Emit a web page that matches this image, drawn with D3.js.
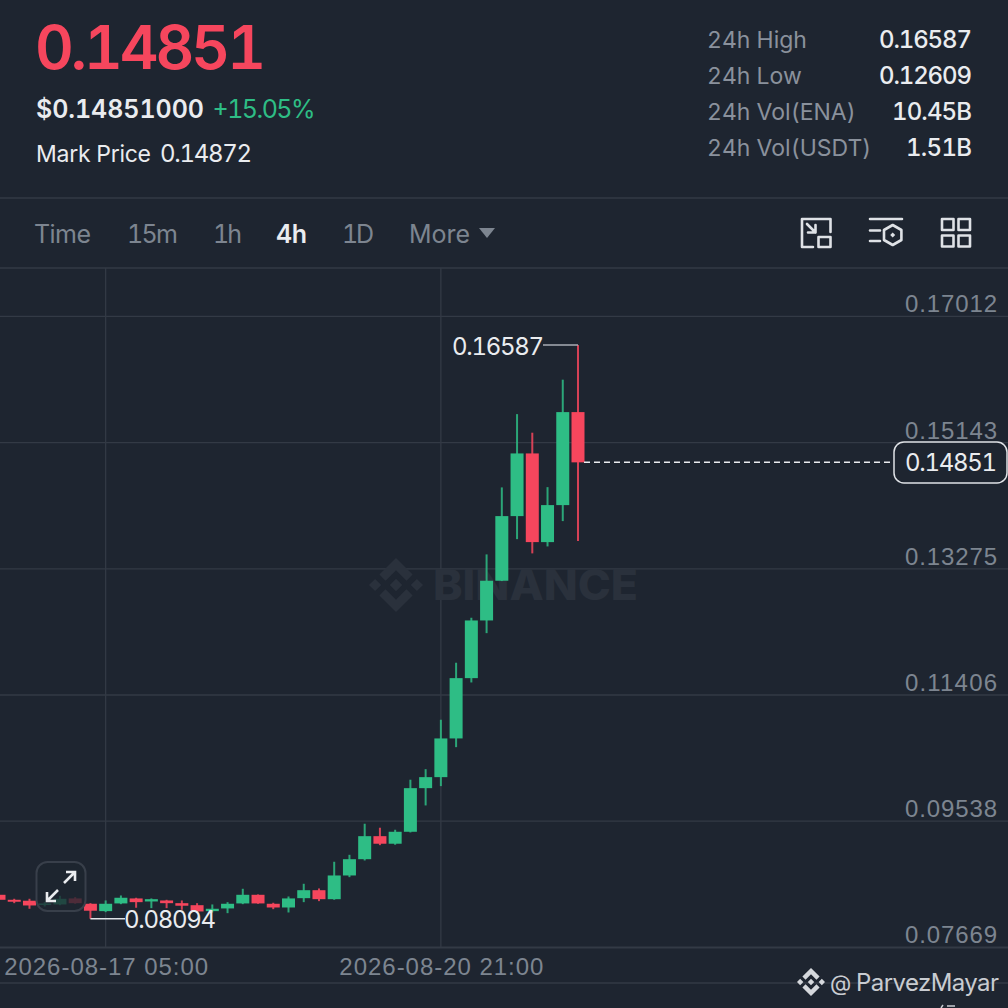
<!DOCTYPE html>
<html><head><meta charset="utf-8">
<script src="https://cdnjs.cloudflare.com/ajax/libs/d3/7.8.5/d3.min.js"></script>
<style>html,body{margin:0;padding:0;background:#1e2530;overflow:hidden}svg{display:block;font-family:Inter,"Noto Sans",sans-serif;font-variant-numeric:tabular-nums}</style>
</head><body><svg id="c" width="1008" height="1008"></svg>
<script>
const times=["08-16 01:00","08-16 05:00","08-16 09:00","08-16 13:00","08-16 17:00","08-16 21:00","08-17 01:00","08-17 05:00","08-17 09:00","08-17 13:00","08-17 17:00","08-17 21:00","08-18 01:00","08-18 05:00","08-18 09:00","08-18 13:00","08-18 17:00","08-18 21:00","08-19 01:00","08-19 05:00","08-19 09:00","08-19 13:00","08-19 17:00","08-19 21:00","08-20 01:00","08-20 05:00","08-20 09:00","08-20 13:00","08-20 17:00","08-20 21:00","08-21 01:00","08-21 05:00","08-21 09:00","08-21 13:00","08-21 17:00","08-21 21:00","08-22 01:00","08-22 05:00","08-22 09:00"];
const opens=[.08448,.08374,.08360,.08297,.08305,.08394,.08315,.08206,.08320,.08394,.08349,.08364,.08324,.08294,.08206,.08246,.08320,.08448,.08315,.08260,.08398,.08516,.08383,.08734,.08975,.09316,.09204,.09381,.10027,.10190,.10763,.11656,.12510,.13098,.14055,.14983,.13670,.14218,.15595];
const highs=[.08453,.08389,.08389,.08340,.08433,.08413,.08324,.08364,.08438,.08404,.08394,.08374,.08364,.08324,.08305,.08339,.08537,.08453,.08330,.08423,.08611,.08542,.08937,.09040,.09500,.09441,.09411,.10152,.10308,.11040,.11884,.12550,.13488,.14480,.15565,.15290,.14484,.16075,.16587];
const lows=[.08371,.08324,.08241,.08275,.08294,.08315,.08094,.08191,.08309,.08256,.08250,.08250,.08226,.08186,.08186,.08176,.08309,.08315,.08235,.08186,.08339,.08354,.08374,.08709,.08956,.09183,.09189,.09371,.09771,.10057,.10634,.11592,.12322,.13093,.13714,.13503,.13606,.13981,.13685];
const closes=[.08374,.08345,.08290,.08320,.08389,.08324,.08212,.08315,.08404,.08339,.08383,.08324,.08286,.08201,.08241,.08315,.08448,.08320,.08260,.08394,.08516,.08383,.08734,.08975,.09316,.09204,.09381,.10027,.10190,.10763,.11656,.12510,.13098,.14055,.14983,.13670,.14218,.15595,.14851];
const priceTicks=[.17012,.15143,.13275,.11406,.09538,.07669];
const timeTicks=["08-17 05:00","08-20 21:00"];
const timeYear="2026-";
const statLabels=["24h High","24h Low","24h Vol(ENA)","24h Vol(USDT)"];
const statValues=["0.16587","0.12609","10.45B","1.51B"];
const tabs=["Time","15m","1h","4h","1D","More"];
const lastPrice=.14851, highLabel=.16587, lowLabel=.08094;

const BG="#1e2530",GREEN="#2ebd85",RED="#f6465d",GRID="#333a45",MUTE="#7d8590",WHITE="#eaecef";
const logoPaths=["m38.73 53.2 24.59-24.58 24.6 24.6 14.3-14.31L63.32 0 24.42 38.9z","m0 63.31 14.3-14.31 14.31 14.31-14.31 14.3z","m38.73 73.41 24.59 24.59 24.6-24.6 14.31 14.29-38.9 38.91-38.91-38.88z","m98 63.31 14.3-14.31 14.31 14.3-14.31 14.32z","m77.83 63.3-14.51-14.52-10.73 10.73-1.24 1.23-2.54 2.54 14.51 14.5 14.51-14.47z"];

const svg=d3.select("#c");
const y=d3.scaleLinear().domain([.07669,.17012]).range([947.4,316.4]);
const x=d3.scalePoint().domain(times).range([-1,578]);
const fmt=d3.format(".5f");
function txt(s,px,py,size,fill,w,anchor,len){const t=svg.append("text").attr("x",px).attr("y",py).attr("font-size",size).attr("fill",fill).attr("font-weight",w||400).attr("text-anchor",anchor||"start").text(s);if(len)t.attr("textLength",len).attr("lengthAdjust","spacing");return t;}
function logo(tx,ty,size,fill){const g=svg.append("g").attr("transform",`translate(${tx},${ty}) scale(${size/126.61})`);logoPaths.forEach(d=>g.append("path").attr("d",d).attr("fill",fill));return g;}

// header
txt(fmt(lastPrice),35,69,60,RED,600,"start",231);
txt("$0.14851000",36,118,25,WHITE,600,"start",168);
txt("+15.05%",212.5,118,25,GREEN,400,"start",103);
txt("Mark Price",36,162,23,WHITE,400,"start",115);
txt("0.14872",160,162,24,WHITE,400,"start",92);
const statLen=[93,93,80,66];
statLabels.forEach((s,i)=>{txt(s,707,48+i*36,23,"#8a919c",400);txt(statValues[i],972,48+i*36,24,WHITE,500,"end",statLen[i]);});

// separators
[198,268,983].forEach(v=>svg.append("line").attr("x1",0).attr("x2",1008).attr("y1",v).attr("y2",v).attr("stroke",GRID).attr("stroke-width",1.5));

// tabs
const tabX=[34,127,213,276,342,409], tabLen=[57,51,29,31,32,61];
tabs.forEach((s,i)=>txt(s,tabX[i],243,25,s==="4h"?WHITE:"#7d8590",s==="4h"?600:400,"start",tabLen[i]));
svg.append("path").attr("d","M479 228H495L487 238Z").attr("fill","#7d8590");

// tool icons
const ic=svg.append("g").attr("fill","none").attr("stroke","#dfe2e6").attr("stroke-width",2.6).attr("stroke-linejoin","round").attr("stroke-linecap","round");
ic.append("path").attr("d","M813 247H802V219H830.5V232");
ic.append("rect").attr("x",818.5).attr("y",237).attr("width",12).attr("height",10);
ic.append("path").attr("d","M807 224L815.5 232.5M815.5 225V232.5H808");
ic.append("path").attr("d","M870 219H902M870 230.5H880M870 241H880");
ic.append("path").attr("d","M892.7 225L901.4 230V240L892.7 245L884 240V230Z");
ic.append("path").attr("d","M892.7 232.5L895.2 235L892.7 237.5L890.2 235Z").attr("fill","#dfe2e6").attr("stroke","none");
[[942,219],[958.5,219],[942,235.5],[958.5,235.5]].forEach(p=>ic.append("rect").attr("x",p[0]).attr("y",p[1]).attr("width",11.5).attr("height",11));

// watermark
logo(369,558,54,"#2a313c");
svg.append("text").attr("x",433).attr("y",600).attr("font-size",42).attr("font-weight",800).attr("fill","#2a313c").attr("textLength",205).attr("lengthAdjust","spacingAndGlyphs").text("BINANCE");

// axes
const yAxis=d3.axisRight(y).tickValues(priceTicks).tickFormat(fmt).tickSize(0);
const ya=svg.append("g").attr("transform","translate(997,0)").call(yAxis);
ya.select(".domain").remove();
ya.selectAll("text").attr("x",0).attr("dy",0).attr("y",-4.5).attr("text-anchor","end").attr("font-size",24).attr("font-family","inherit").attr("fill",MUTE).attr("textLength",92);
priceTicks.forEach(t=>svg.insert("line","g").attr("x1",0).attr("x2",1008).attr("y1",y(t)).attr("y2",y(t)).attr("stroke",GRID).attr("stroke-width",t===priceTicks[5]?2:1.3));
const xAxis=d3.axisBottom(x).tickValues(timeTicks).tickFormat(d=>timeYear+d).tickSize(0);
const xa=svg.append("g").attr("transform","translate(0,947)").call(xAxis);
xa.select(".domain").remove();
xa.selectAll("text").attr("y",28).attr("dy",0).attr("font-size",24).attr("font-family","inherit").attr("fill",MUTE).attr("textLength",204);
timeTicks.forEach(t=>svg.insert("line","g").attr("x1",x(t)).attr("x2",x(t)).attr("y1",268).attr("y2",947).attr("stroke",GRID).attr("stroke-width",1.3));

// candles
const idx=d3.range(times.length);
const col=i=>closes[i]>=opens[i]?GREEN:RED;
const cg=svg.append("g");
cg.selectAll("line").data(idx).join("line").attr("x1",i=>x(times[i])).attr("x2",i=>x(times[i])).attr("y1",i=>y(highs[i])).attr("y2",i=>y(lows[i])).attr("stroke",col).attr("stroke-width",2).attr("stroke-opacity",.85);
cg.selectAll("rect").data(idx).join("rect").attr("x",i=>x(times[i])-6.5).attr("width",13).attr("y",i=>y(Math.max(opens[i],closes[i]))).attr("height",i=>Math.max(1.5,Math.abs(y(opens[i])-y(closes[i])))).attr("fill",col);

// high/low callouts
const hx=x(times[38]),lx=x(times[6]);
svg.append("line").attr("x1",543).attr("x2",hx).attr("y1",y(highLabel)).attr("y2",y(highLabel)).attr("stroke","#a8adb4").attr("stroke-width",1.5);
txt(fmt(highLabel),452,355,24,WHITE,400,"start",92);
svg.append("line").attr("x1",lx).attr("x2",125).attr("y1",y(lowLabel)).attr("y2",y(lowLabel)).attr("stroke","#dfe2e6").attr("stroke-width",1.5);
txt(fmt(lowLabel),124,928,24,WHITE,400,"start",92);

// last price line + tag
svg.append("line").attr("x1",584).attr("x2",893).attr("y1",y(lastPrice)).attr("y2",y(lastPrice)).attr("stroke","#eaecef").attr("stroke-width",1.5).attr("stroke-dasharray","6 4");
svg.append("rect").attr("x",894).attr("y",442).attr("width",113).attr("height",41).attr("rx",10).attr("fill",BG).attr("stroke","#dfe2e6").attr("stroke-width",1.5);
txt(fmt(lastPrice),905,471,24,WHITE,400,"start",92);

// expand button
svg.append("rect").attr("x",36.5).attr("y",862).attr("width",49).attr("height",49).attr("rx",11).attr("fill",BG).attr("fill-opacity",.78).attr("stroke","#383f4a").attr("stroke-width",2);
svg.append("path").attr("d","M47 901L58 890M47 892V901H56M64 883L75 872M66 872H75V881").attr("fill","none").attr("stroke","#eaecef").attr("stroke-width",2.6);

// footer
logo(797,968,28,"#d5d8dc");
txt("@",830,991,22,"#c9ccd1",400,"start",20);
txt("ParvezMayar",856,991,24,"#c9ccd1",400,"start",143);
svg.append("path").attr("d","M941 1008L943 1005M947 1006H955").attr("stroke","#c9ccd1").attr("stroke-width",1.5).attr("fill","none");
</script></body></html>
